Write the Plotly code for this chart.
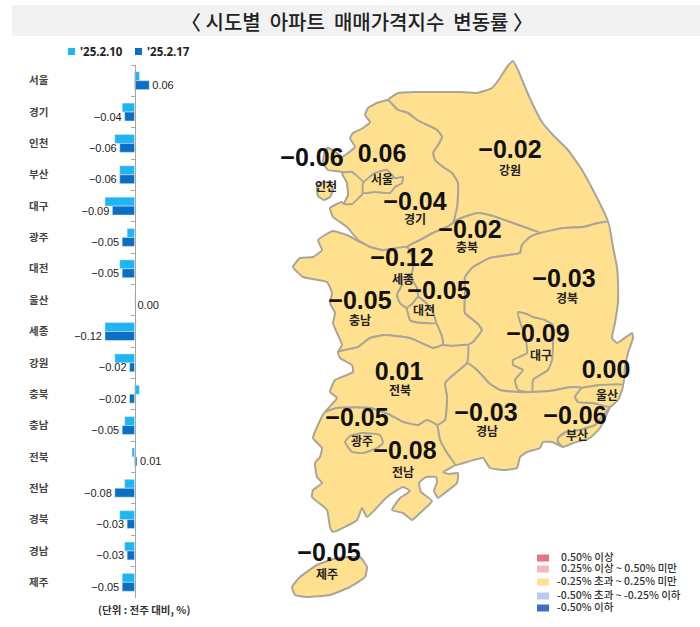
import plotly.graph_objects as go

# Bar chart data
regions = ['서울', '경기', '인천', '부산', '대구', '광주', '대전', '울산', '세종',
           '강원', '충북', '충남', '전북', '전남', '경북', '경남', '제주']
feb10 = [0.02, -0.05, -0.08, -0.06, -0.12, -0.03, -0.06, 0.00, -0.12,
         -0.08, 0.02, -0.04, -0.01, -0.04, -0.06, -0.04, -0.05]
feb17 = [0.06, -0.04, -0.06, -0.06, -0.09, -0.05, -0.05, 0.00, -0.12,
         -0.02, -0.02, -0.05, 0.01, -0.08, -0.03, -0.03, -0.05]

# Map outlines in image pixels
GANGWON = [(388, 100), (398, 93), (417, 92), (443, 92), (460, 92), (477, 93), (492, 88), (500, 78), (507, 67),
           (513, 61), (518, 70), (525, 87), (533, 105), (542, 122), (553, 135), (568, 150), (582, 170), (593, 190),
           (603, 210), (608, 222), (598, 223), (583, 227), (563, 228), (540, 233), (527, 228), (510, 222), (493, 216),
           (478, 213), (467, 216), (457, 220), (453, 223), (457, 207), (458, 193), (458, 183), (452, 173), (443, 167),
           (435, 160), (433, 153), (438, 145), (442, 137), (437, 130), (427, 125), (417, 120), (408, 113), (398, 110),
           (393, 105)]
GYEONGGI = [(388, 100), (377, 103), (368, 108), (365, 115), (370, 122), (363, 128), (353, 133), (350, 138), (355, 147),
            (348, 153), (342, 157), (337, 153), (328, 148), (325, 150), (323, 163), (328, 170), (342, 172), (347, 183),
            (348, 195), (344, 204), (342, 202), (330, 208), (333, 217), (347, 227), (358, 240), (370, 247), (383, 250),
            (407, 247), (420, 240), (433, 233), (447, 227), (453, 223), (457, 207), (458, 193), (458, 183), (452, 173),
            (443, 167), (435, 160), (433, 153), (438, 145), (442, 137), (437, 130), (427, 125), (417, 120), (408, 113),
            (398, 110), (393, 105)]
INCHEON = [(342, 173), (352, 172), (363, 182), (363, 193), (352, 204), (344, 204), (348, 195), (347, 183)]
INCHEON_ISLAND = [(317, 187), (323, 182), (330, 183), (333, 190), (330, 197), (324, 200), (318, 196)]
SEOUL = [(363, 183), (375, 173), (387, 170), (395, 178), (403, 177), (402, 183), (395, 187), (390, 193), (375, 192),
         (363, 193)]
CHUNGBUK = [(453, 223), (457, 220), (467, 216), (478, 213), (493, 216), (510, 222), (527, 228), (540, 233), (530, 237),
            (522, 245), (520, 253), (508, 255), (490, 258), (473, 267), (465, 277), (465, 293), (465, 313), (477, 323),
            (482, 330), (473, 342), (468, 345), (452, 346), (443, 345), (442, 337), (436, 323), (432, 310), (425, 302),
            (418, 297), (417, 288), (410, 278), (413, 268), (413, 258), (407, 247), (420, 240), (433, 233), (447, 227)]
CHUNGNAM = [(360, 242), (347, 235), (333, 231), (325, 235), (318, 240), (322, 250), (313, 257), (300, 258), (293, 267),
            (303, 277), (327, 282), (332, 293), (330, 303), (335, 313), (333, 323), (337, 333), (342, 345), (338, 352),
            (358, 347), (370, 338), (385, 335), (410, 338), (433, 348), (443, 345), (442, 337), (436, 323), (425, 323),
            (415, 322), (410, 320), (407, 308), (400, 303), (397, 295), (402, 285), (402, 277), (410, 278), (413, 268),
            (413, 258), (407, 247), (383, 250), (370, 247)]
SEJONG = [(402, 277), (410, 278), (417, 288), (418, 297), (412, 304), (407, 308), (400, 303), (397, 295), (402, 285)]
DAEJEON = [(407, 308), (412, 304), (418, 297), (425, 302), (432, 310), (436, 323), (425, 323), (415, 322), (410, 320)]
GYEONGBUK = [(608, 222), (613, 247), (617, 267), (618, 283), (618, 303), (617, 310), (615, 323), (612, 338), (617, 343),
             (632, 333), (633, 338), (628, 353), (625, 367), (623, 385), (600, 385), (582, 388), (572, 387), (550, 391),
             (532, 392), (517, 392), (500, 390), (490, 384), (477, 370), (467, 363), (468, 345), (473, 342), (482, 330),
             (477, 323), (465, 313), (465, 293), (465, 277), (473, 267), (490, 258), (508, 255), (520, 253), (522, 245),
             (530, 237), (540, 233), (563, 228), (583, 227), (598, 223)]
DAEGU = [(518, 312), (527, 314), (533, 317), (545, 320), (553, 325), (553, 345), (552, 360), (548, 370), (533, 380),
         (532, 392), (518, 390), (515, 380), (523, 370), (513, 365), (513, 360), (527, 353), (525, 335), (520, 322)]
ULSAN = [(623, 385), (600, 385), (582, 388), (575, 397), (578, 402), (593, 403), (610, 407), (618, 400)]
BUSAN = [(610, 407), (605, 418), (600, 428), (590, 438), (573, 443), (563, 447), (558, 442), (558, 438), (566, 432),
         (580, 430), (595, 425)]
GYEONGNAM = [(467, 363), (477, 370), (490, 384), (500, 390), (517, 392), (532, 392), (550, 391), (572, 387), (582, 388),
             (575, 397), (578, 402), (593, 403), (610, 407), (595, 425), (580, 430), (566, 432), (558, 438), (558, 442),
             (563, 447), (552, 442), (543, 442), (540, 448), (527, 452), (520, 457), (517, 468), (503, 470), (490, 468),
             (483, 458), (467, 462), (455, 465), (447, 453), (440, 440), (437, 425), (445, 420), (447, 397), (445, 383),
             (453, 375)]
JEONBUK = [(338, 352), (358, 347), (370, 338), (385, 335), (410, 338), (433, 348), (443, 345), (452, 346), (468, 345),
           (467, 363), (453, 375), (445, 383), (447, 397), (445, 420), (437, 425), (427, 420), (418, 425), (403, 422),
           (388, 414), (370, 408), (337, 408), (325, 412), (337, 398), (330, 392), (335, 380), (353, 372), (352, 365),
           (340, 358)]
JEONNAM = [(325, 412), (337, 408), (370, 408), (388, 414), (403, 422), (418, 425), (427, 420), (437, 425), (440, 440),
           (447, 453), (455, 465), (443, 472), (449, 474), (458, 473), (457, 483), (446, 492), (438, 498), (434, 491),
           (437, 482), (436, 477), (426, 477), (419, 483), (421, 492), (432, 501), (420, 513), (412, 520), (403, 513),
           (392, 510), (400, 498), (410, 491), (403, 487), (387, 497), (367, 517), (362, 508), (357, 520), (333, 532),
           (330, 527), (327, 510), (312, 497), (313, 490), (322, 483), (317, 477), (315, 463), (320, 457), (322, 448),
           (313, 438), (317, 427)]
GWANGJU = [(345, 442), (350, 436), (363, 433), (380, 435), (383, 443), (377, 448), (363, 453), (352, 452)]
JEJU = [(292, 587), (300, 577), (317, 565), (337, 558), (360, 557), (367, 567), (365, 577), (350, 587), (330, 595),
        (307, 597), (295, 595)]

map_shapes = [GANGWON, GYEONGGI, INCHEON, INCHEON_ISLAND, SEOUL, CHUNGBUK, CHUNGNAM, SEJONG, DAEJEON, GYEONGBUK,
              DAEGU, GYEONGNAM, ULSAN, BUSAN, JEONBUK, JEONNAM, GWANGJU, JEJU]

# Map labels
map_names = ['인천', '서울', '강원', '경기', '충북', '세종', '대전', '충남', '경북',
             '대구', '울산', '전북', '경남', '부산', '광주', '전남', '제주']
map_values = ['−0.06', '0.06', '−0.02', '−0.04', '−0.02', '−0.12', '−0.05', '−0.05', '−0.03',
              '−0.09', '0.00', '0.01', '−0.03', '−0.06', '−0.05', '−0.08', '−0.05']
value_x = [312, 382, 510, 415, 470, 402, 439, 360, 564, 538, 606, 399, 486, 575, 357, 405, 329]
value_y = [160, 156, 152, 204, 232, 260, 293, 303, 281, 336, 372, 374, 415, 418, 420, 453, 555]
name_x = [326, 382, 510, 415, 467, 403, 424, 360, 567, 541, 607, 400, 487, 577, 362, 403, 327]
name_y = [188, 181, 172, 221, 249, 281, 312, 322, 300, 357, 397, 392, 433, 437, 443, 474, 576]

# Colour key
key_labels = ['0.50% 이상', '0.25% 이상 ~ 0.50% 미만', '-0.25% 초과 ~ 0.25% 미만', '-0.50% 초과 ~ -0.25% 이하', '-0.50% 이하']
key_colors = ['#E8747C', '#F4B9C0', '#FFE08F', '#B9CBE8', '#3F6FC4']
key_y = [558, 569, 582, 596, 608]
key_text_x = [561, 561, 557, 557, 557]

KR_FONT = 'Noto Sans CJK KR'
NUM_FONT = 'Liberation Sans'
BLUE_A = '#1FB4F2'
BLUE_B = '#0B6FC3'
MAP_FILL = '#FFE08F'
MAP_LINE = '#A9A598'


def bar_text(values):
    return [f'{v:.2f}'.replace('-', '−') for v in values]


fig = go.Figure()

# left chart
fig.add_trace(go.Bar(y=regions, x=feb10, orientation='h', name="'25.2.10", marker_color=BLUE_A))
fig.add_trace(go.Bar(y=regions, x=feb17, orientation='h', name="'25.2.17", marker_color=BLUE_B,
                     text=bar_text(feb17), textposition='outside', cliponaxis=False, constraintext='none',
                     textfont=dict(family=NUM_FONT, size=11, color='#222222')))

# map regions
for pts in map_shapes:
    fig.add_trace(go.Scatter(x=[p[0] for p in pts] + [pts[0][0]], y=[p[1] for p in pts] + [pts[0][1]],
                             xaxis='x2', yaxis='y2', mode='lines', fill='toself', fillcolor=MAP_FILL,
                             line=dict(color=MAP_LINE, width=2, shape='spline', smoothing=0.4),
                             hoverinfo='skip'))

# map labels
fig.add_trace(go.Scatter(x=value_x, y=value_y, xaxis='x2', yaxis='y2', mode='text', text=map_values,
                         textfont=dict(family=NUM_FONT, size=25, color='#111111', weight='bold')))
fig.add_trace(go.Scatter(x=name_x, y=name_y, xaxis='x2', yaxis='y2', mode='text', text=map_names,
                         textfont=dict(family=KR_FONT, size=12, color='#222222', weight='bold')))

# colour key text
fig.add_trace(go.Scatter(x=key_text_x, y=key_y, xaxis='x2', yaxis='y2', mode='text', text=key_labels,
                         textposition='middle right',
                         textfont=dict(family=KR_FONT, size=10.5, color='#333333', weight=500)))

shapes = [dict(type='rect', xref='x2', yref='y2', x0=12, x1=700, y0=5, y1=36,
               fillcolor='#F2F2F2', line_width=0, layer='below')]
for c, yy in zip(key_colors, key_y):
    shapes.append(dict(type='rect', xref='x2', yref='y2', x0=537, x1=549, y0=yy - 3.5, y1=yy + 3.5,
                       fillcolor=c, line_width=0))
# small legend swatches for the bars
for c, xx in zip([BLUE_A, BLUE_B], [68, 135]):
    shapes.append(dict(type='rect', xref='x2', yref='y2', x0=xx, x1=xx + 7, y0=48, y1=55,
                       fillcolor=c, line_width=0))

annotations = [
    dict(xref='x2', yref='y2', x=357, y=21, showarrow=False, text='〈 시도별  아파트  매매가격지수  변동률 〉',
         font=dict(family=KR_FONT, size=20, color='#222222', weight=500)),
    dict(xref='x2', yref='y2', x=78, y=51.5, showarrow=False, xanchor='left', text="<b>'25.2.10</b>",
         font=dict(family='Noto Sans', size=11.5, color='#222222')),
    dict(xref='x2', yref='y2', x=145, y=51.5, showarrow=False, xanchor='left', text="<b>'25.2.17</b>",
         font=dict(family='Noto Sans', size=11.5, color='#222222')),
    dict(xref='x2', yref='y2', x=144, y=609, showarrow=False, text='<b>(단위 : 전주 대비, %)</b>',
         font=dict(family=KR_FONT, size=10.5, color='#333333')),
]

fig.update_layout(
    width=700, height=627, margin=dict(l=0, r=0, t=0, b=0),
    paper_bgcolor='white', plot_bgcolor='rgba(0,0,0,0)', showlegend=False,
    barmode='group', bargap=0.43, bargroupgap=0,
    shapes=shapes, annotations=annotations,
    xaxis=dict(domain=[0, 0.4], range=[-0.5467, 0.5915], visible=False, fixedrange=True),
    yaxis=dict(domain=[1 - 598 / 627, 1 - 65 / 627], range=[16.5, -0.5], type='category',
               anchor='free', position=134.5 / 700, side='left',
               showline=True, linecolor='#A6A6A6', linewidth=1, showgrid=False, zeroline=False,
               ticks='outside', ticklen=4, tickcolor='#A6A6A6', tickson='boundaries', ticklabelstandoff=84,
               tickfont=dict(family=KR_FONT, size=10.5, color='#444444', weight='bold')),
    xaxis2=dict(domain=[0, 1], range=[0, 700], visible=False, anchor='y2', overlaying=None),
    yaxis2=dict(domain=[0, 1], range=[627, 0], visible=False, anchor='x2'),
)

fig.write_html("out.html", post_script="document.body.style.margin='0';", config={'displayModeBar': False})
